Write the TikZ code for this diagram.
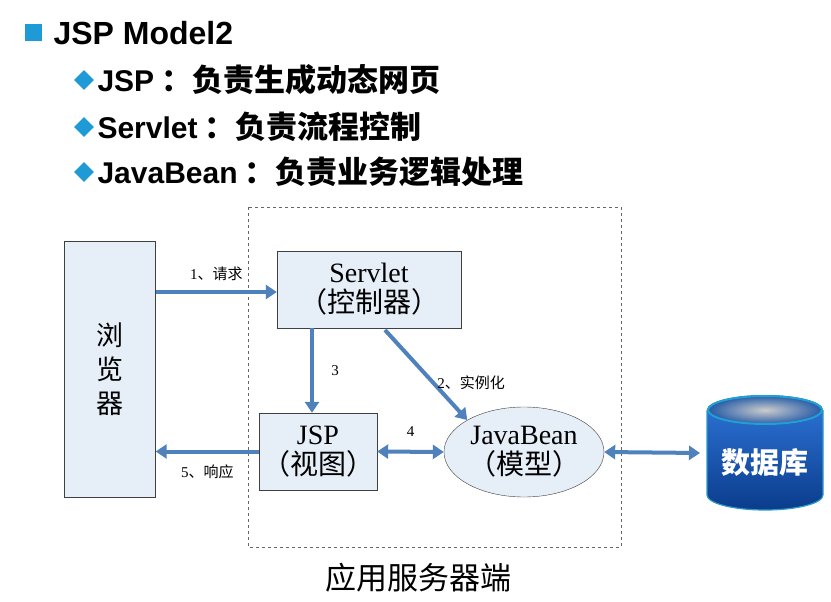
\documentclass[tikz,border=0pt]{standalone}
\usepackage{fontspec}
\setmainfont{Liberation Serif}
\newfontfamily\hsans{Liberation Sans}
\newfontfamily\cjk{Noto Sans CJK SC}
\usetikzlibrary{shapes.geometric,arrows.meta}
\definecolor{arr}{HTML}{4F81BD}
\definecolor{boxfill}{HTML}{E6EEF8}
\definecolor{bul}{HTML}{1E9AD6}
\definecolor{dbdark}{HTML}{0B3C8C}
\definecolor{dblight}{HTML}{2A6FD0}
\tikzset{
  conn/.style={draw=arr,line width=4pt,-{Triangle[length=11pt,width=14pt]}},
  dconn/.style={draw=arr,line width=4pt,{Triangle[length=11pt,width=14pt]}-{Triangle[length=11pt,width=14pt]}},
  comp/.style={draw=black!75,fill=boxfill,align=center,inner sep=0pt,font=\fontsize{28}{30}\selectfont},
  lbl/.style={font=\fontsize{15}{17}\selectfont},
  head/.style={anchor=west,font=\fontsize{30}{32}\selectfont\bfseries},
  dia/.style={diamond,fill=bul,inner sep=0pt,minimum width=20pt,minimum height=20pt}
}
\begin{document}
\begin{tikzpicture}[x=1pt,y=-1pt]
\useasboundingbox[fill=white] (0,0) rectangle (831,602);
% header
\fill[bul] (25,24) rectangle (42,41);
\node[head,font=\fontsize{32}{34}\selectfont\bfseries\hsans] (t) at (50,33) {JSP Model2};
\node[dia] (d1) at (84,80) {};
\node[dia] (d2) at (84,127) {};
\node[dia] (d3) at (84,172) {};
\node[head] (h1) at (94,80) {\hsans JSP\cjk\fontsize{31}{32}\selectfont\ ：负责生成动态网页};
\node[head] (h2) at (94,127) {\hsans Servlet\cjk\fontsize{31}{32}\selectfont\ ：负责流程控制};
\node[head] (h3) at (94,172) {\hsans JavaBean\cjk\fontsize{31}{32}\selectfont\ ：负责业务逻辑处理};
% server box
\draw[dashed,draw=black!60] (248,207) rectangle (621,547);
\node[font=\fontsize{31}{33}\selectfont\cjk] (cap) at (418,578) {应用服务器端};
% browser
\node[comp,minimum width=91pt,minimum height=256pt,font=\fontsize{27}{34}\selectfont\cjk] (br) at (110,369) {浏\\览\\器};
\node[comp,minimum width=184pt,minimum height=77pt] (sv) at (369,289.5) {Servlet\\{\cjk（控制器）}};
\node[comp,minimum width=118pt,minimum height=77pt] (jsp) at (318,451.5) {JSP\\{\cjk（视图）}};
\node[comp,ellipse,minimum width=160pt,minimum height=90pt] (jb) at (524,452) {JavaBean\\{\cjk（模型）}};
% database
\shade[top color=dblight,bottom color=dbdark] (707,410) -- (707,495) arc[start angle=180,end angle=0,x radius=58,y radius=15] -- (823,410) -- cycle;
\shade[inner color=black!20!white,outer color=dblight!80!black] (765,410) ellipse[x radius=58,y radius=15];
\draw[cyan!70!teal,line width=2pt] (765,410) ellipse[x radius=57,y radius=14];
\draw[cyan!60!teal,line width=1.2pt] (707,410) -- (707,495) arc[start angle=180,end angle=0,x radius=58,y radius=15] -- (823,410);
\node[text=white,font=\fontsize{29}{30}\selectfont\cjk\bfseries] (db) at (765,462) {数据库};
\coordinate (dbl) at (700,453);
% arrows
\draw[conn] (br.east |- 0,292) -- (sv.west |- 0,292) node[midway,above=6pt,lbl]{1{\cjk、请求}};
\draw[conn] (sv.south -| 312,0) -- (jsp.north -| 312,0) node[midway,right=14pt,lbl]{3};
\draw[conn] (385,330) -- (jb.north west) node[midway,xshift=45pt,yshift=-8pt,lbl]{2{\cjk、实例化}};
\draw[dconn] (jsp.east) -- (jb.west) node[midway,above=10pt,lbl]{4};
\draw[conn] (jsp.west) -- (br.east |- jsp.west) node[midway,below=8pt,lbl]{5{\cjk、响应}};
\draw[dconn] (jb.east) -- (dbl);
\end{tikzpicture}
\end{document}
